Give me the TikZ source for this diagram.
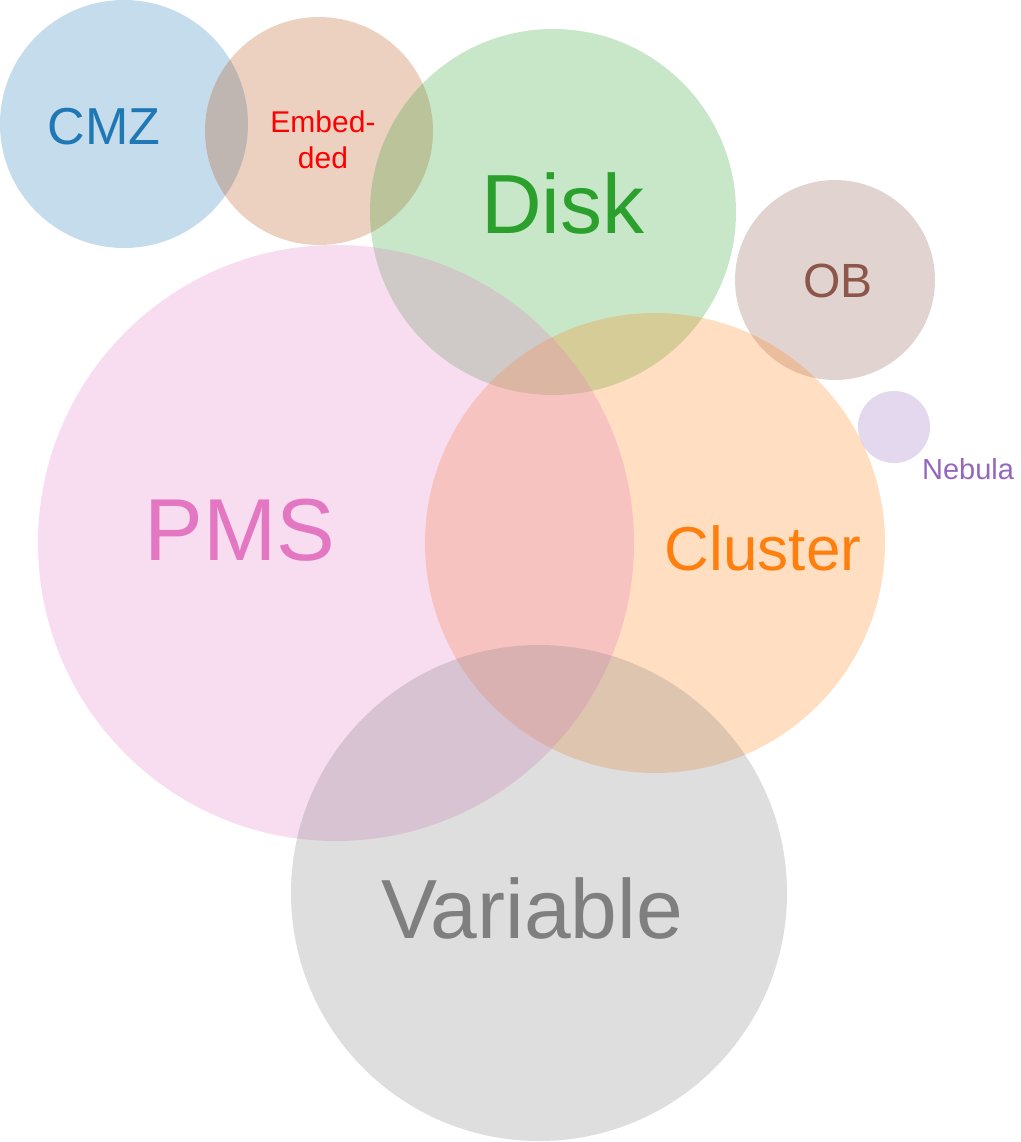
\documentclass[tikz,border=0pt]{standalone}
\usepackage{fontspec}
\setmainfont{Liberation Sans}
\definecolor{tblue}{HTML}{1F77B4}
\definecolor{temb}{RGB}{180,75,10}
\definecolor{tgreen}{HTML}{2CA02C}
\definecolor{tbrown}{HTML}{8C564B}
\definecolor{tpurple}{HTML}{9467BD}
\definecolor{torange}{HTML}{FF7F0E}
\definecolor{tpink}{HTML}{E377C2}
\definecolor{tgray}{HTML}{7F7F7F}
\begin{document}
\begin{tikzpicture}[x=1pt,y=-1pt,
  bub/.style={fill=#1,fill opacity=0.26,draw=none},
  lab/.style={inner sep=0pt,font=\fontsize{#1}{#1}\selectfont}]
\useasboundingbox (0,0) rectangle (1020,1142);
\fill[bub=tblue] (124,124) circle (124);
\fill[bub=temb] (319,131) circle (114);
\fill[bub=tgreen] (553,212) circle (183);
\fill[bub=tbrown] (835,280) circle (100);
\fill[bub=tpurple] (894,427) circle (36);
\fill[bub=torange] (655,543) circle (230);
\fill[bub=tpink] (336,543) circle (298);
\fill[bub=tgray] (539,893) circle (248);
\node[lab=52,text=tblue] (cmz) at (104,127) {CMZ};
\node[lab=30,text=red,align=center,font=\fontsize{30}{36}\selectfont] (emb) at (323,140) {Embed-\\ded};
\node[lab=84,text=tgreen] (disk) at (563,203) {Disk};
\node[lab=48,text=tbrown] (ob) at (838,281) {OB};
\node[lab=29,text=tpurple] (neb) at (968,469) {Nebula};
\node[lab=88,text=tpink] (pms) at (240,530) {PMS};
\node[lab=62,text=torange] (clu) at (763,548) {Cluster};
\node[lab=84,text=tgray] (var) at (532,908) {Variable};
\end{tikzpicture}
\end{document}
